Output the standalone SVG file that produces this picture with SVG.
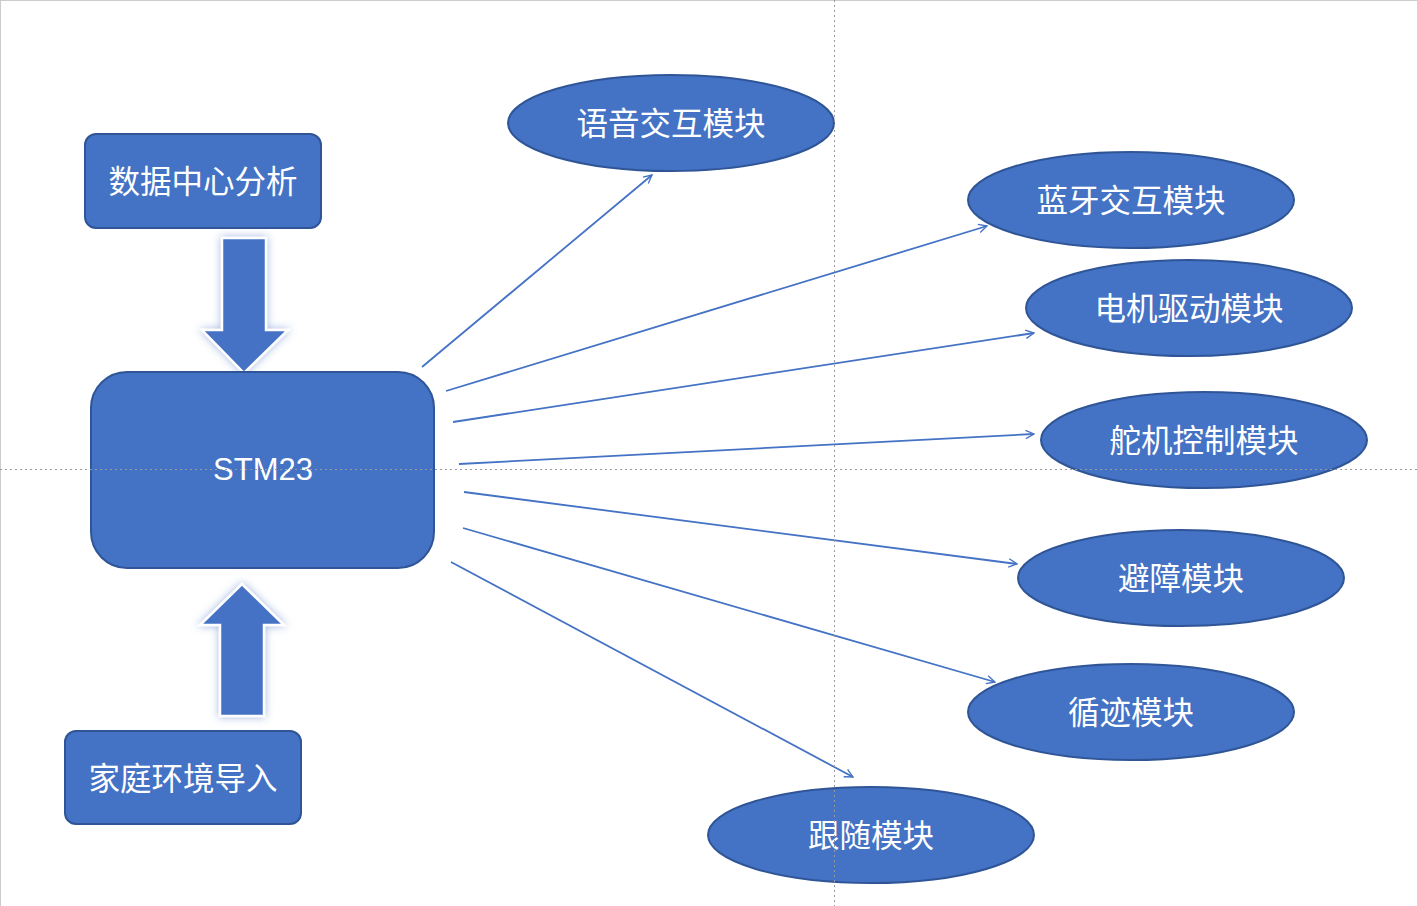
<svg xmlns="http://www.w3.org/2000/svg" width="1417" height="906" viewBox="0 0 1417 906">
<defs>
<style>
.box{fill:#4472C4;stroke:#2F5597;stroke-width:2}
.ell{fill:#4472C4;stroke:#2F5597;stroke-width:2}
.t{fill:#fff;font-family:"Noto Sans CJK SC","Noto Sans",sans-serif;font-size:31.5px;text-anchor:middle;dominant-baseline:central}
.con{stroke:#4472C4;stroke-width:1.8;fill:none;marker-end:url(#ah)}
.blk{fill:#4472C4;stroke:#fff;stroke-width:2.5;filter:url(#glow)}
.guide{stroke:#999;stroke-width:1;stroke-dasharray:2 3;fill:none}
</style>
<marker id="ah" viewBox="0 0 12 12" refX="11" refY="6" markerWidth="10" markerHeight="10" markerUnits="userSpaceOnUse" orient="auto">
<path d="M1,1 L11,6 L1,11" fill="none" stroke="#4472C4" stroke-width="1.6"/>
</marker>
<filter id="glow" x="-30%" y="-30%" width="160%" height="160%">
<feGaussianBlur in="SourceAlpha" stdDeviation="4" result="b"/>
<feFlood flood-color="#4472C4" flood-opacity="0.5"/>
<feComposite in2="b" operator="in" result="g"/>
<feMerge><feMergeNode in="g"/><feMergeNode in="SourceGraphic"/></feMerge>
</filter>
</defs>
<rect x="0" y="0" width="1417" height="906" fill="#fff"/>
<line x1="0" y1="0.5" x2="1417" y2="0.5" stroke="#ccc"/>
<line x1="0.5" y1="0" x2="0.5" y2="906" stroke="#ccc"/>

<g id="arrow-down"><path class="blk" d="M222,238 L266,238 L266,330 L288,330 L244,373 L202,330 L222,330 Z"/></g>
<g id="arrow-up"><path class="blk" d="M242,584 L284,625 L264,625 L264,716 L220,716 L220,625 L200,625 Z"/></g>

<g id="n-data"><rect class="box" x="85" y="134" width="236" height="94" rx="11"/><text class="t" x="203" y="179">数据中心分析</text></g>
<g id="n-home"><rect class="box" x="65" y="731" width="236" height="93" rx="11"/><text class="t" x="183" y="776">家庭环境导入</text></g>
<g id="n-stm"><rect class="box" x="91" y="372" width="343" height="196" rx="36"/><text class="t" x="263" y="469" style="font-family:'Liberation Sans',Arial,sans-serif;font-size:31px">STM23</text></g>

<g id="n-voice"><ellipse class="ell" cx="671" cy="123" rx="163" ry="48"/><text class="t" x="671" y="121">语音交互模块</text></g>
<g id="n-bt"><ellipse class="ell" cx="1131" cy="200" rx="163" ry="48"/><text class="t" x="1131" y="198">蓝牙交互模块</text></g>
<g id="n-motor"><ellipse class="ell" cx="1189" cy="308" rx="163" ry="48"/><text class="t" x="1189" y="306">电机驱动模块</text></g>
<g id="n-servo"><ellipse class="ell" cx="1204" cy="440" rx="163" ry="48"/><text class="t" x="1204" y="438">舵机控制模块</text></g>
<g id="n-avoid"><ellipse class="ell" cx="1181" cy="578" rx="163" ry="48"/><text class="t" x="1181" y="576">避障模块</text></g>
<g id="n-track"><ellipse class="ell" cx="1131" cy="712" rx="163" ry="48"/><text class="t" x="1131" y="710">循迹模块</text></g>
<g id="n-follow"><ellipse class="ell" cx="871" cy="835" rx="163" ry="48"/><text class="t" x="871" y="833">跟随模块</text></g>

<g id="connectors">
<line class="con" x1="422" y1="367" x2="652" y2="175"/>
<line class="con" x1="446" y1="391" x2="987" y2="226"/>
<line class="con" x1="453" y1="422" x2="1034" y2="333"/>
<line class="con" x1="459" y1="464" x2="1034" y2="434"/>
<line class="con" x1="464" y1="492" x2="1017" y2="564"/>
<line class="con" x1="463" y1="528" x2="995" y2="682"/>
<line class="con" x1="451" y1="562" x2="853" y2="777"/>
</g>

<g id="guides">
<line class="guide" x1="834.5" y1="0" x2="834.5" y2="906"/>
<line class="guide" x1="0" y1="469.5" x2="1417" y2="469.5"/>
</g>
</svg>
